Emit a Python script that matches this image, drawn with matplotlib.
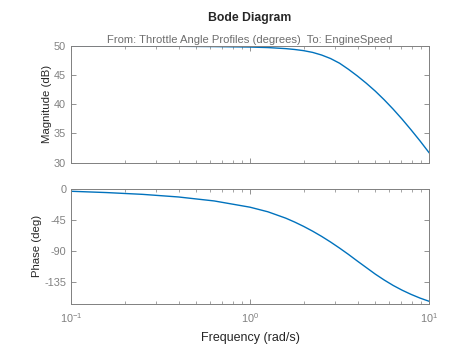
import matplotlib
matplotlib.use("Agg")
import matplotlib.pyplot as plt
from matplotlib.ticker import LogLocator, NullFormatter

plt.rcParams['font.family'] = ['Liberation Sans', 'DejaVu Sans']
plt.rcParams['axes.unicode_minus'] = False

# Values
freq = [0.1, 0.158, 0.251, 0.398, 0.631, 1.0, 1.259, 1.585, 1.778, 1.995,
        2.239, 2.512, 2.818, 3.162, 3.548, 3.981, 4.467, 5.012, 5.623,
        6.310, 7.079, 7.943, 8.913, 10.0]
magnitude_db = [50.0, 49.99, 49.97, 49.95, 49.9, 49.82, 49.73, 49.55, 49.4,
                49.2, 48.9, 48.45, 47.85, 47.05, 46.0, 44.85, 43.6, 42.25,
                40.76, 39.15, 37.43, 35.6, 33.7, 31.7]
phase_deg = [-3.3, -5.2, -7.8, -11.6, -17.4, -26.5, -33.2, -42.5, -48.2,
             -54.5, -61.45, -69.0, -77.2, -86.0, -95.25, -105.0, -114.5,
             -124.0, -132.6, -140.5, -147.4, -153.5, -158.9, -163.5]

mag_ticks = [30, 35, 40, 45, 50]
phase_ticks = [-135, -90, -45, 0]

line_color = '#0072BD'
gray = '#808080'
dark = '#262626'

W, H = 474, 355
fig = plt.figure(figsize=(W / 100, H / 100), dpi=100)
fig.patch.set_facecolor('white')

left = 71 / W
width = 358 / W
ax1 = fig.add_axes([left, 1 - 162.5 / H, width, 116.5 / H])
ax2 = fig.add_axes([left, 1 - 304 / H, width, 115 / H])

for ax in (ax1, ax2):
    ax.set_xscale('log')
    ax.set_xlim(0.1, 10)
    ax.xaxis.set_major_locator(LogLocator(base=10))
    ax.xaxis.set_minor_locator(LogLocator(base=10, subs=range(2, 10)))
    ax.xaxis.set_minor_formatter(NullFormatter())
    ax.tick_params(which='both', direction='in', top=True, right=True,
                   colors=gray, labelsize=7.8, labelcolor=gray)
    ax.tick_params(which='major', length=3.5, width=0.6)
    ax.tick_params(which='minor', length=2, width=0.5)
    for sp in ax.spines.values():
        sp.set_color(gray)
        sp.set_linewidth(0.7)

ax1.plot(freq, magnitude_db, color=line_color, lw=1.0)
ax1.set_ylim(30, 50)
ax1.set_yticks(mag_ticks)
ax1.tick_params(labelbottom=False)
ax1.set_title('From: Throttle Angle Profiles (degrees)  To: EngineSpeed',
              fontsize=8.1, color='#6e6e6e', pad=2.5)

ax2.plot(freq, phase_deg, color=line_color, lw=1.0)
ax2.set_ylim(-167.5, 0)
ax2.set_yticks(phase_ticks)
ax2.tick_params(axis='x', pad=5)

fig.text(250 / W, 1 - 17.7 / H, 'Bode Diagram', ha='center', va='center',
         fontsize=8.8, fontweight='bold', color=dark)
fig.text(47 / W, 1 - 104 / H, 'Magnitude (dB)', rotation=90, ha='center',
         va='center', fontsize=8.2, color=dark)
fig.text(37 / W, 1 - 246 / H, 'Phase (deg)', rotation=90, ha='center',
         va='center', fontsize=8.2, color=dark)
fig.text(250 / W, 1 - 338 / H, 'Frequency (rad/s)', ha='center',
         va='center', fontsize=9, color=dark)

fig.savefig('out.png', dpi=100, facecolor='white')
